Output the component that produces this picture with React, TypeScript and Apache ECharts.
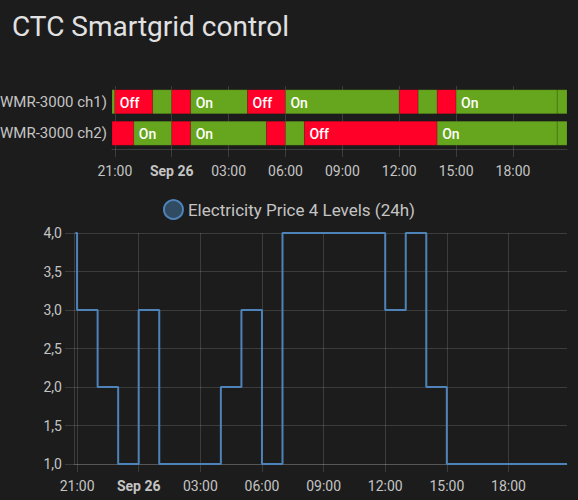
import React, { useEffect, useRef } from "react";
import * as echarts from "echarts";

// ---------- data ----------
const TITLE = "CTC Smartgrid control";
const CHANNELS = ["CTC Relay (WMR-3000 ch1)", "CTC Relay (WMR-3000 ch2)"];
const SERIES_NAME = "Electricity Price 4 Levels (24h)";

// [dayOffset, hour, minute] times; day 0 = Sep 25
const RANGE_START: [number, number, number] = [0, 20, 51];
const RANGE_END: [number, number, number] = [1, 20, 51];
const TICK_TIMES: [number, number, number][] = [
  [0, 21, 0], [1, 0, 0], [1, 3, 0], [1, 6, 0], [1, 9, 0], [1, 12, 0], [1, 15, 0], [1, 18, 0],
];

// segments: [start, end, state]
const CH1_SEGMENTS: [[number, number, number], [number, number, number], string][] = [
  [[0, 20, 51], [0, 21, 0], "On"],
  [[0, 21, 0], [0, 23, 0], "Off"],
  [[0, 23, 0], [1, 0, 0], "On"],
  [[1, 0, 0], [1, 1, 0], "Off"],
  [[1, 1, 0], [1, 4, 0], "On"],
  [[1, 4, 0], [1, 6, 0], "Off"],
  [[1, 6, 0], [1, 12, 0], "On"],
  [[1, 12, 0], [1, 13, 0], "Off"],
  [[1, 13, 0], [1, 14, 0], "On"],
  [[1, 14, 0], [1, 15, 0], "Off"],
  [[1, 15, 0], [1, 20, 20], "On"],
  [[1, 20, 20], [1, 20, 51], "On"],
];
const CH2_SEGMENTS: [[number, number, number], [number, number, number], string][] = [
  [[0, 20, 51], [0, 22, 0], "Off"],
  [[0, 22, 0], [1, 0, 0], "On"],
  [[1, 0, 0], [1, 1, 0], "Off"],
  [[1, 1, 0], [1, 5, 0], "On"],
  [[1, 5, 0], [1, 6, 0], "Off"],
  [[1, 6, 0], [1, 7, 0], "On"],
  [[1, 7, 0], [1, 14, 0], "Off"],
  [[1, 14, 0], [1, 20, 20], "On"],
  [[1, 20, 20], [1, 20, 51], "On"],
];

const PRICE_TIMES: [number, number, number][] = [
  [0, 20, 55], [0, 21, 0], [0, 22, 0], [0, 23, 0], [1, 0, 0], [1, 1, 0],
  [1, 4, 0], [1, 5, 0], [1, 6, 0], [1, 7, 0], [1, 12, 0], [1, 13, 0],
  [1, 14, 0], [1, 15, 0], [1, 20, 51],
];
const PRICE_LEVELS = [4, 3, 2, 1, 3, 1, 2, 3, 1, 4, 3, 4, 2, 1, 1];

// ---------- styling ----------
const BG = "#1c1c1c";
const RED = "#ff0029";
const GREEN = "#66a61e";
const LINE = "#4d83b8";
const GRID = "rgba(255,255,255,0.14)";
const LABEL = "#c4c4c4";
const FONT = "Roboto";

const ts = (t: [number, number, number]) =>
  new Date(2023, 8, 25 + t[0], t[1], t[2]).getTime();

const timeFormatter = (v: number) => {
  const d = new Date(v);
  const h = d.getHours();
  const m = d.getMinutes();
  if (h === 0 && m === 0) return "{b|Sep " + d.getDate() + "}";
  return String(h).padStart(2, "0") + ":" + String(m).padStart(2, "0");
};

export default function App() {
  const ref = useRef<HTMLDivElement>(null);
  useEffect(() => {
    document.body.style.margin = "0";
    document.body.style.background = BG;
    const chart = echarts.init(ref.current!, null, { renderer: "svg" });
    const segData: any[] = [];
    [CH1_SEGMENTS, CH2_SEGMENTS].forEach((segs, ci) => {
      segs.forEach((s) => segData.push([ci, ts(s[0]), ts(s[1]), s[2]]));
    });
    const priceData = PRICE_TIMES.map((t, i) => [ts(t), PRICE_LEVELS[i]]);
    const minT = ts(RANGE_START);
    const maxT = ts(RANGE_END);
    const tickVals = TICK_TIMES.map(ts);

    const xAxisCommon = {
      type: "value",
      min: minT,
      max: maxT,
      scale: true,
      splitLine: { show: true, lineStyle: { color: GRID, width: 1 } },
      axisLine: { show: true, lineStyle: { color: GRID } },
      axisTick: { show: true, length: 8, lineStyle: { color: GRID }, customValues: tickVals },
      axisLabel: {
        color: LABEL,
        fontFamily: FONT,
        fontSize: 14,
        margin: 15,
        customValues: tickVals,
        formatter: timeFormatter,
        rich: { b: { fontWeight: "bold", fontSize: 14, color: LABEL, fontFamily: FONT } },
      },
    };

    chart.setOption({
      animation: false,
      backgroundColor: BG,
      title: {
        text: TITLE,
        left: 7,
        top: 7,
        textStyle: { color: "#e1e1e1", fontSize: 28, fontWeight: "normal", fontFamily: FONT },
      },
      legend: {
        data: [SERIES_NAME],
        top: 194,
        left: "center",
        icon: "circle",
        itemWidth: 19,
        itemHeight: 19,
        itemGap: 8,
        textStyle: { color: LABEL, fontSize: 17, fontFamily: FONT },
      },
      grid: [
        { left: 112, right: 11, top: 86, height: 63, outerBoundsMode: "none", containLabel: false },
        { left: 74, right: 11, top: 233, bottom: 36, outerBoundsMode: "none", containLabel: false },
      ],
      xAxis: [
        { ...xAxisCommon, gridIndex: 0 },
        { ...xAxisCommon, gridIndex: 1 },
      ],
      yAxis: [
        {
          type: "category",
          gridIndex: 0,
          data: CHANNELS,
          inverse: true,
          axisLine: { show: false },
          axisTick: { show: false },
          splitLine: { show: false },
          axisLabel: { color: LABEL, fontFamily: FONT, fontSize: 15, margin: 5 },
        },
        {
          type: "value",
          gridIndex: 1,
          min: 1,
          max: 4,
          interval: 0.5,
          axisLine: { show: true, lineStyle: { color: GRID } },
          axisTick: { show: true, length: 9, lineStyle: { color: GRID } },
          splitLine: { show: true, lineStyle: { color: GRID } },
          axisLabel: {
            color: LABEL,
            fontFamily: FONT,
            fontSize: 14,
            margin: 12,
            formatter: (v: number) => v.toFixed(1).replace(".", ","),
          },
        },
      ],
      series: [
        {
          type: "custom",
          name: "timeline",
          xAxisIndex: 0,
          yAxisIndex: 0,
          encode: { x: [1, 2], y: 0 },
          data: segData,
          renderItem: (params: any, api: any) => {
            const cat = api.value(0);
            const p0 = api.coord([api.value(1), cat]);
            const p1 = api.coord([api.value(2), cat]);
            const state = segData[params.dataIndex][3];
            const h = 24;
            const w = p1[0] - p0[0];
            const children: any[] = [
              {
                type: "rect",
                shape: { x: p0[0], y: p0[1] - h / 2, width: w, height: h },
                style: { fill: state === "On" ? GREEN : RED, stroke: "rgba(0,0,0,0.12)", lineWidth: 1 },
              },
            ];
            if (w > 30) {
              children.push({
                type: "text",
                style: {
                  text: state,
                  x: p0[0] + 5,
                  y: p0[1] + 1,
                  verticalAlign: "middle",
                  align: "left",
                  fill: "#ffffff",
                  fontSize: 14,
                  fontWeight: 500,
                  fontFamily: FONT,
                },
              });
            }
            return { type: "group", children };
          },
        },
        {
          type: "line",
          name: SERIES_NAME,
          xAxisIndex: 1,
          yAxisIndex: 1,
          step: "end",
          showSymbol: false,
          symbol: "none",
          data: priceData,
          lineStyle: { color: LINE, width: 2 },
          itemStyle: { color: "rgba(68,115,158,0.55)", borderColor: LINE, borderWidth: 1.5 },
        },
      ],
    });
    return () => chart.dispose();
  }, []);
  return (
    <div
      ref={ref}
      style={{ position: "fixed", left: 0, top: 0, width: 578, height: 500, background: BG }}
    />
  );
}
